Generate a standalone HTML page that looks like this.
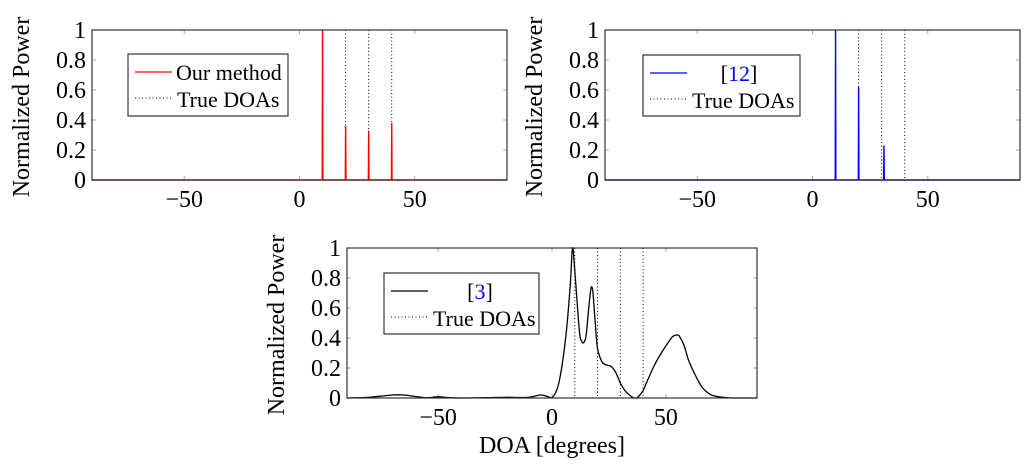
<!DOCTYPE html>
<html><head><meta charset="utf-8"><style>
body{margin:0;background:#fff;width:1024px;height:464px;overflow:hidden}
svg{display:block;font-family:"Liberation Serif",serif}
</style></head><body>
<svg id="c" width="1024" height="464"></svg>
<script>
const xTicks=[-50,0,50];
const yTicks=[0,0.2,0.4,0.6,0.8,1];
const yTickLabels=["0","0.2","0.4","0.6","0.8","1"];
const trueDOAs=[10,20,30,40];
const oursAngles=[10,20,30,40];
const oursValues=[1.0,0.36,0.33,0.38];
const ref12Angles=[10,20,31];
const ref12Values=[1.0,0.62,0.23];
const ref3Angles=[-90,-80,-70,-65,-60,-55,-50,-45,-40,-30,-20,-15,-10,-5,-2,0,3,6,8,9,10,12,13,14,15,16,17,17.5,18,19,20,22,24,26,28,30,32,34,36,37,38,40,42,45,48,51,53,55,56,58,60,63,66,70,75,80,90];
const ref3Values=[0,0.005,0.02,0.02,0.01,0.002,0.008,0.002,0,0.002,0.005,0.003,0.005,0.02,0.01,0,0.1,0.4,0.75,1.0,0.85,0.45,0.38,0.37,0.42,0.58,0.72,0.74,0.70,0.5,0.33,0.24,0.22,0.21,0.17,0.1,0.05,0.02,0,0,0.01,0.05,0.12,0.22,0.3,0.37,0.41,0.42,0.41,0.35,0.25,0.15,0.07,0.02,0.005,0,0];

const NS="http://www.w3.org/2000/svg";
const svg=document.getElementById('c');
function mk(tag,attrs,parent,text){const e=document.createElementNS(NS,tag);for(const k in attrs)e.setAttribute(k,attrs[k]);if(text!==undefined)e.textContent=text;(parent||svg).appendChild(e);return e;}

function panel(name,x0,x1,y0,y1,color,type,angles,values,legendBox,legendLabel,refNum,xTitle){
  const g=mk('g',{});
  
  
  const sx=d=>x0+(d+90)/180*(x1-x0);
  const sy=v=>y1-v*(y1-y0);
  xTicks.forEach(t=>{
    mk('line',{x1:sx(t),x2:sx(t),y1:y1,y2:y1-4,stroke:'#aaa','stroke-width':1},g);
    mk('line',{x1:sx(t),x2:sx(t),y1:y0,y2:y0+4,stroke:'#aaa','stroke-width':1},g);
    const tl=mk('text',{x:sx(t),y:y1+27,'text-anchor':'middle','font-size':24},g,t<0?'\u2212'+Math.abs(t):String(t));
    
    
  });
  yTicks.forEach((t,i)=>{
    mk('line',{x1:x0,x2:x0+4,y1:sy(t),y2:sy(t),stroke:'#aaa','stroke-width':1},g);
    mk('line',{x1:x1,x2:x1-4,y1:sy(t),y2:sy(t),stroke:'#aaa','stroke-width':1},g);
    const tl=mk('text',{x:x0-6,y:sy(t)+8,'text-anchor':'end','font-size':24},g,yTickLabels[i]);
    
    
  });
  const yt=mk('text',{x:0,y:0,'text-anchor':'middle','font-size':24,transform:`translate(${x0-63},${(y0+y1)/2+2}) rotate(-90)`},g,'Normalized Power');
  
  
  if(xTitle){
    const xt=mk('text',{x:(x0+x1)/2,y:y1+55,'text-anchor':'middle','font-size':24},g,xTitle);
    
    
  }
  trueDOAs.forEach(d=>{
    const l=mk('line',{x1:sx(d),x2:sx(d),y1:y0,y2:y1,stroke:'#000','stroke-width':1,'stroke-dasharray':'1 2.5'},g);
    
    
  });
  let pts;
  if(type==='spikes'){
    pts=[[sx(-90),sy(0)]];
    angles.forEach((a,i)=>{pts.push([sx(a)-0.3,sy(0)],[sx(a),sy(values[i])],[sx(a)+0.3,sy(0)]);});
    pts.push([sx(90),sy(0)]);
  } else {
    pts=angles.map((a,i)=>[sx(a),sy(values[i])]);
  }
  let dstr='M'+pts[0][0]+','+pts[0][1];
  if(type==='spikes'){for(let i=1;i<pts.length;i++)dstr+=' L'+pts[i][0]+','+pts[i][1];}
  else{
    for(let i=0;i<pts.length-1;i++){
      const p0=pts[Math.max(0,i-1)],p1=pts[i],p2=pts[i+1],p3=pts[Math.min(pts.length-1,i+2)];
      const c1=[p1[0]+(p2[0]-p0[0])/6,p1[1]+(p2[1]-p0[1])/6];
      const c2=[p2[0]-(p3[0]-p1[0])/6,p2[1]-(p3[1]-p1[1])/6];
      dstr+=` C${c1[0]},${Math.min(c1[1],y1)} ${c2[0]},${Math.min(c2[1],y1)} ${p2[0]},${p2[1]}`;
    }
  }
  const s=mk('path',{d:dstr,fill:'none',stroke:color,'stroke-width':type==='spikes'?1.4:1.3},g);
  
  
  mk('rect',{x:x0,y:y0,width:x1-x0,height:y1-y0,fill:'none',stroke:'#333','stroke-width':1.2},g);
  const [lx,ly,lw,lh]=legendBox;
  const lg=mk('g',{},g);
  
  
  mk('rect',{x:lx,y:ly,width:lw,height:lh,fill:'#fff',stroke:'#333','stroke-width':1.2},lg);
  mk('line',{x1:lx+7,x2:lx+44,y1:ly+18,y2:ly+18,stroke:color,'stroke-width':1.3},lg);
  mk('line',{x1:lx+7,x2:lx+44,y1:ly+44,y2:ly+44,stroke:'#000','stroke-width':1,'stroke-dasharray':'1 2.5'},lg);
  if(refNum){
    const t=mk('text',{x:lx+96,y:ly+26,'text-anchor':'middle','font-size':22},lg);
    mk('tspan',{},t,'[');mk('tspan',{fill:'#00f'},t,refNum);mk('tspan',{},t,']');
    
    
  } else {
    const t=mk('text',{x:lx+48,y:ly+26,'font-size':22},lg,legendLabel);
    
    
  }
  const t2=mk('text',{x:lx+49,y:ly+53,'font-size':22},lg,'True DOAs');
  
  
}
panel('our-method-panel',92,507,30,180,'#f00','spikes',oursAngles,oursValues,[128,54,160,62],'Our method',null,null);
panel('ref12-panel',605,1020,30,180,'#00f','spikes',ref12Angles,ref12Values,[643,55,157,61],null,'12',null);
panel('ref3-panel',347,757,248,398,'#000','curve',ref3Angles,ref3Values,[384,273,155,61],null,'3','DOA [degrees]');
</script>
</body></html>
